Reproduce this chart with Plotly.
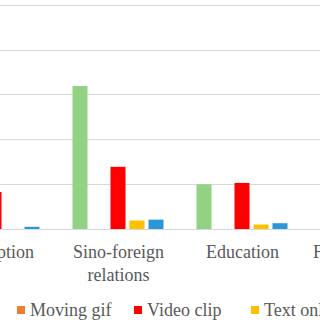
import plotly.graph_objects as go

categories = ["Corruption", "Sino-foreign<br>relations", "Education", "Foreign affairs"]
series_names = ["Image", "Moving gif", "Video clip", "Text only", "Hyperlink"]
series_colors = ["#92D283", "#ED7D31", "#FF0000", "#FFC000", "#2B97D8"]
values = {
    "Image":      [14.0, 32.0, 10.0, 12.0],
    "Moving gif": [0.0, 0.0, 0.0, 0.0],
    "Video clip": [8.3, 13.9, 10.3, 9.0],
    "Text only":  [0.0, 1.9, 1.0, 1.0],
    "Hyperlink":  [0.5, 2.1, 1.3, 1.2],
}
y_ticks = [0, 10, 20, 30, 40, 50]

W, H = 320, 320
XR = [1 - 118 / 124, 1 + 202 / 124]   # visible window of the category axis
PLOT_H = 229

xpos = list(range(len(categories)))
fig = go.Figure()
for name, col in zip(series_names, series_colors):
    fig.add_trace(go.Bar(x=xpos, y=values[name], name=name, marker_color=col,
                         marker_line_width=0, showlegend=False))

font = dict(family="Liberation Serif, Times New Roman, serif", size=18, color="#595959")

def to_paper(xv):
    return (xv - XR[0]) / (XR[1] - XR[0])

# category labels (partially visible ones included)
for xp, lab in zip(xpos, categories):
    fig.add_annotation(x=to_paper(xp), xref="paper", y=-0.048, yref="paper",
                       xanchor="center", yanchor="top",
                       text=lab, showarrow=False, font=font, align="center")

# legend row (cropped at both sides, like the source)
leg_y = (PLOT_H - 310) / PLOT_H
sq = 8
for i, (name, col) in enumerate(zip(series_names, series_colors)):
    x0 = (17 + 117 * (i - 1)) / W
    fig.add_shape(type="rect", xref="paper", yref="paper",
                  x0=x0, x1=x0 + sq / W,
                  y0=leg_y - (sq / 2) / PLOT_H, y1=leg_y + (sq / 2) / PLOT_H,
                  fillcolor=col, line_width=0)
    fig.add_annotation(x=x0 + (sq + 3) / W, xref="paper", y=leg_y, yref="paper",
                       xanchor="left", yanchor="middle", text=name,
                       showarrow=False, font=font)

fig.update_layout(
    width=W, height=H,
    margin=dict(l=0, r=0, t=0, b=H - PLOT_H, autoexpand=False),
    paper_bgcolor="white", plot_bgcolor="white",
    barmode="group", bargap=0.234, bargroupgap=0.21,
    font=font,
    showlegend=False,
    xaxis=dict(range=XR, tickvals=xpos,
               showticklabels=False, showgrid=False, zeroline=False, showline=False, ticks=""),
    yaxis=dict(range=[0, 51.2], tickvals=y_ticks, showticklabels=False, showgrid=True,
               gridcolor="#D9D9D9", gridwidth=1.2, zeroline=True, zerolinecolor="#D9D9D9",
               zerolinewidth=1.2),
)
fig.write_html("out.html")
